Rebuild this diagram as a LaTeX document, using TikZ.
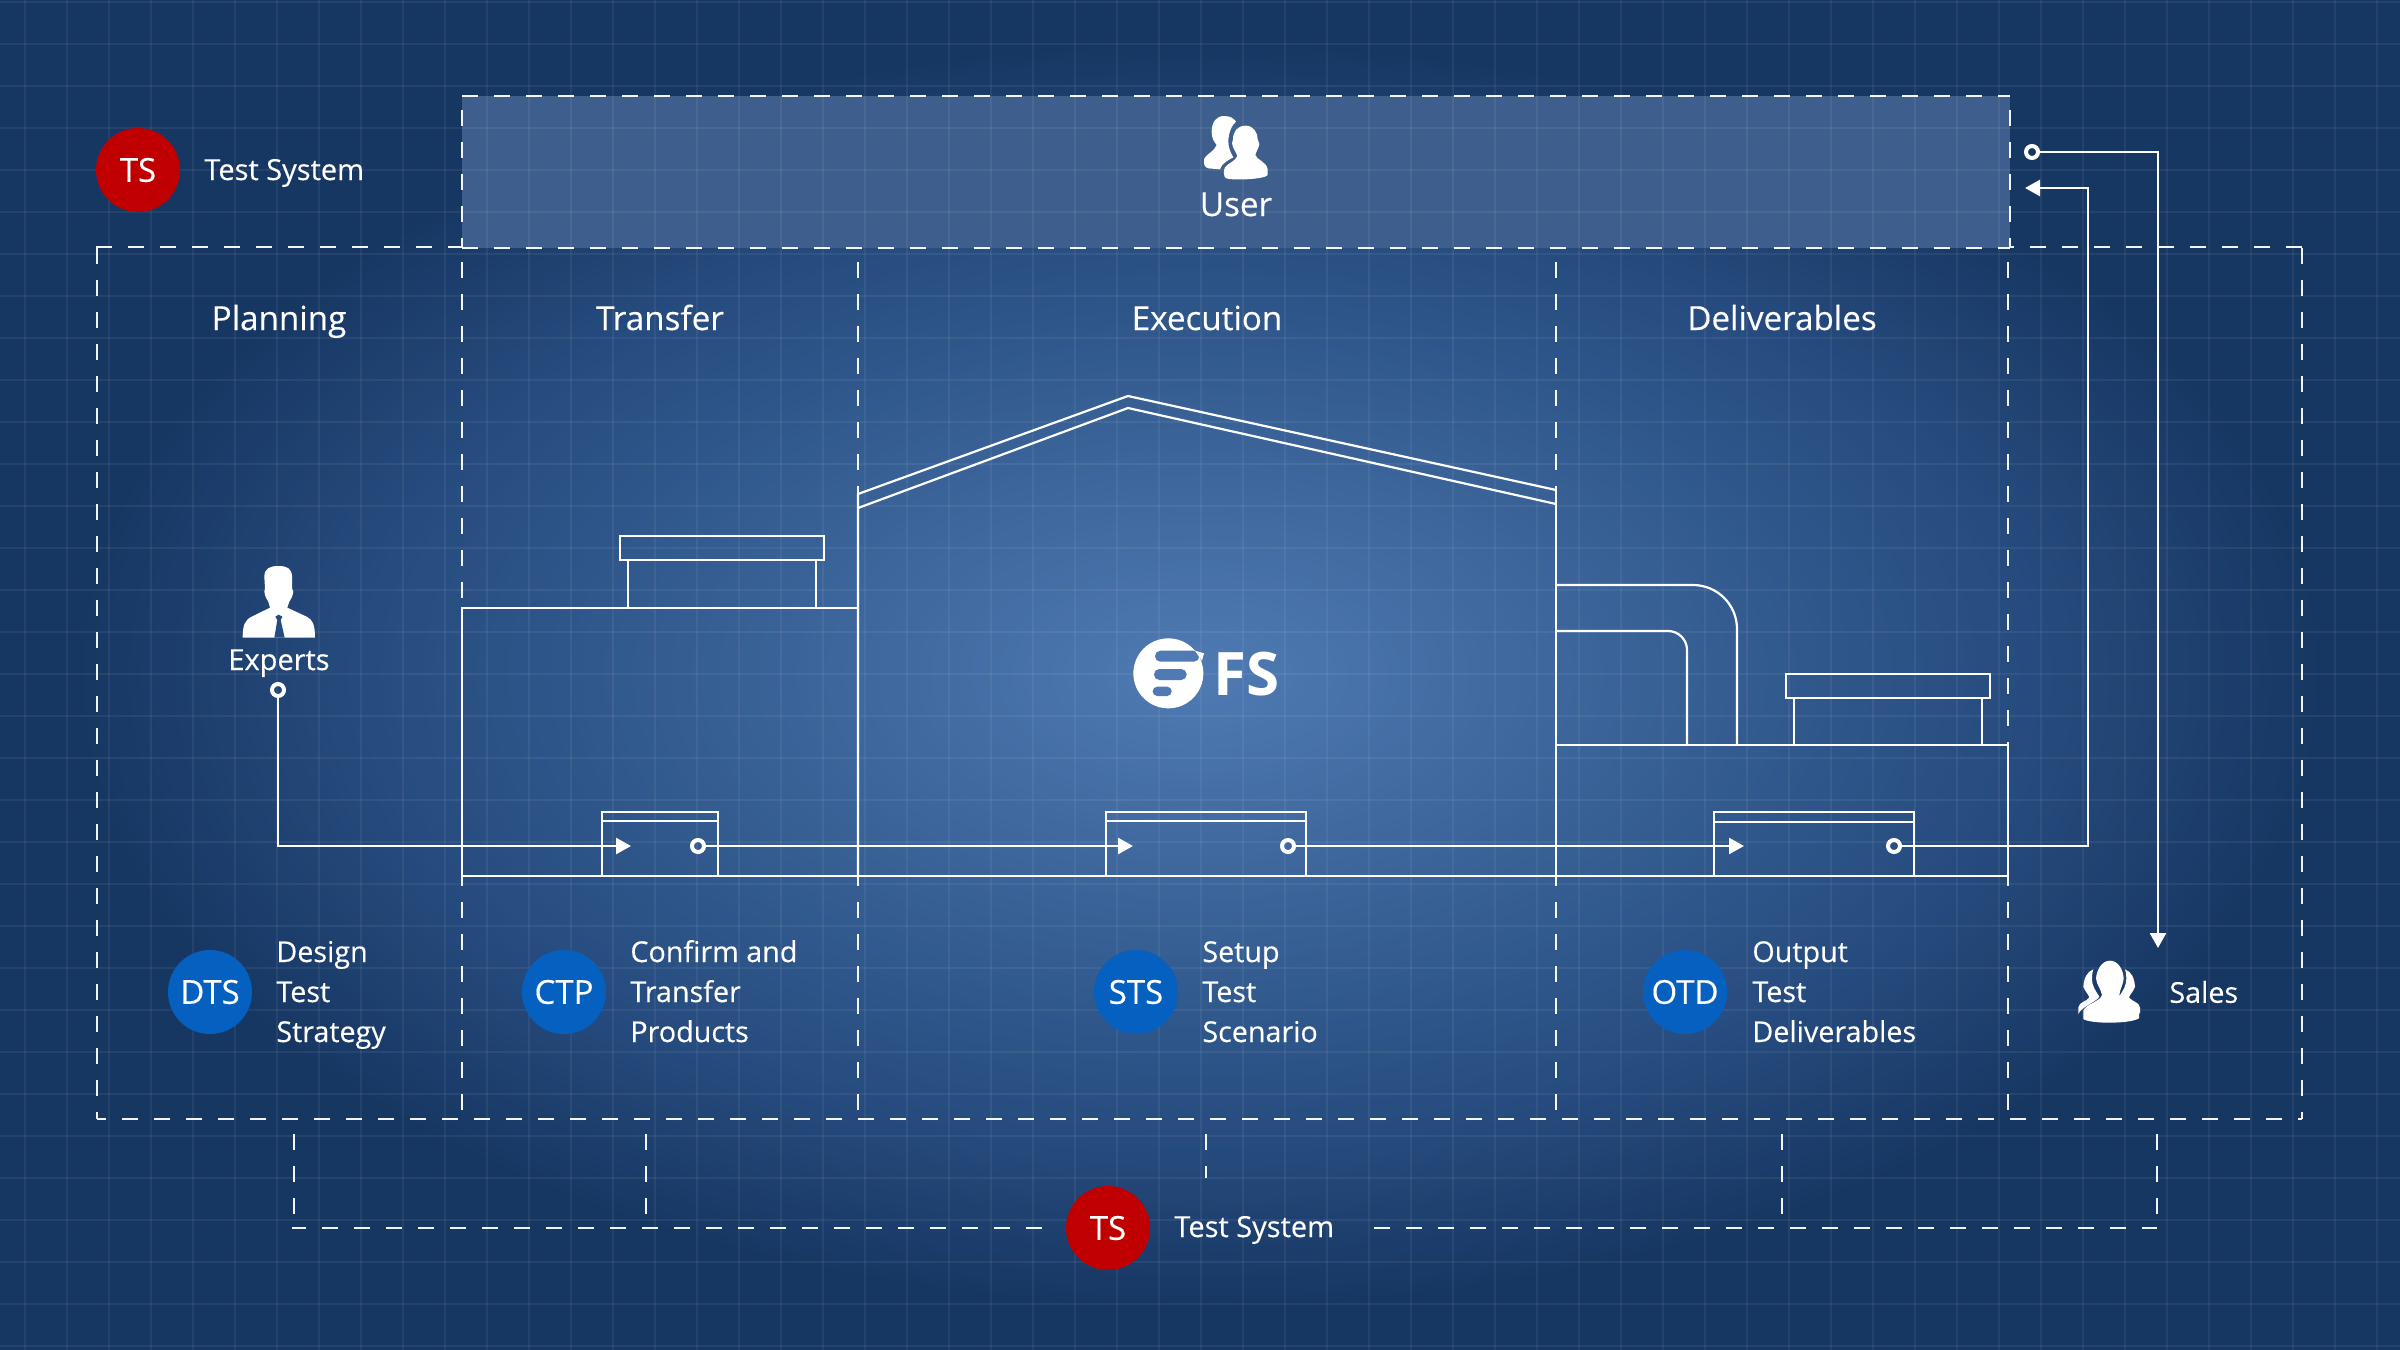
\documentclass[tikz,border=0pt]{standalone}
\usepackage{fontspec}
\setmainfont{Open Sans}[FakeBold=0.3]
\newfontfamily\logofont{Open Sans}
\usetikzlibrary{arrows.meta}
\definecolor{bgA}{HTML}{4F7AB3}
\definecolor{bgB}{HTML}{3F689E}
\definecolor{bgC}{HTML}{325A8E}
\definecolor{bgD}{HTML}{264B7E}
\definecolor{bgE}{HTML}{173763}
\definecolor{band}{HTML}{3E5F8D}
\definecolor{tsred}{HTML}{C00000}
\definecolor{stepblue}{HTML}{0560C0}
\tikzset{
  gridline/.style={white,opacity=.06,line width=1pt},
  wall/.style={white,line width=1.1pt},
  dashline/.style={white,opacity=.95,line width=1.1pt,dash pattern=on 8pt off 8pt},
  flowline/.style={white,line width=1.3pt},
  ringdot/.style={circle,draw=white,line width=2pt,minimum size=6pt,inner sep=0pt,outer sep=0pt},
  badge/.style={circle,minimum size=42pt,inner sep=0pt,text=white,font=\fontsize{16.5}{18}\selectfont},
  redbadge/.style={badge,fill=tsred},
  bluebadge/.style={badge,fill=stepblue},
  caption/.style={text=white,font=\fontsize{14.35}{20}\selectfont,inner sep=0pt,align=left,anchor=west},
  header/.style={text=white,font=\fontsize{16.6}{18}\selectfont,inner sep=0pt,anchor=base},
  smalltext/.style={text=white,font=\fontsize{14.5}{18}\selectfont,inner sep=0pt},
  tip/.style={-{Triangle[length=7.5pt,width=8pt]}},
}
\begin{document}
\begin{tikzpicture}[x=0.5pt,y=-0.5pt]
\useasboundingbox (0,0) rectangle (2400,1350);
\fill[bgE] (0,0) rectangle (2400,1350);
\begin{scope}
\clip (0,0) rectangle (2400,1350);
\foreach \rA/\rB/\cA/\cB in {.94/.70/bgE/bgD,.70/.48/bgD/bgC,.48/.28/bgC/bgB,.28/0/bgB/bgA}
  \foreach \t in {0,...,24} {
    \pgfmathsetmacro\rr{\rA+(\rB-\rA)*\t/25}
    \pgfmathsetmacro\pp{100*\t/25}
    \fill[\cB!\pp!\cA] (1200,675) ellipse[x radius={1200*\rr},y radius={675*\rr}];
  }
\end{scope}
% user band
\fill[band] (462,96) rectangle (2010,248);
\foreach \i in {0,...,56} \draw[gridline] ({25+42*\i},0) -- ({25+42*\i},1350);
\foreach \i in {0,...,32} \draw[gridline] (0,{2+42*\i}) -- (2400,{2+42*\i});
% dashed frames
\draw[dashline] (96,247) -- (462,247);
\draw[dashline] (462,248) -- (2010,248);
\draw[dashline] (2302,247) -- (2010,247);
\draw[dashline] (97,248) -- (97,1119);
\draw[dashline] (2302,248) -- (2302,1119);
\draw[dashline,dash phase=3.5pt] (97,1119) -- (2302,1119);
\draw[dashline] (462,96) -- (2010,96);
\draw[dashline,dash phase=9pt] (462,96) -- (462,248);
\draw[dashline,dash phase=9pt] (2010,96) -- (2010,248);
\foreach \x in {462,858,1556,2008} \draw[dashline,dash phase=9pt] (\x,248) -- (\x,1119);
% bottom bracket
\foreach \x in {294,646,1782,2157} \draw[dashline] (\x,1134) -- (\x,1214);
\draw[dashline] (1206,1134) -- (1206,1178);
\draw[dashline,dash phase=1pt] (292,1228) -- (1042,1228);
\draw[dashline] (1374,1228) -- (2157,1228);
% building
\draw[wall] (462,876) -- (2008,876);
\draw[wall] (462,876) -- (462,608) -- (858,608);
\draw[wall] (628,608) -- (628,560) (816,560) -- (816,608);
\draw[wall] (620,536) rectangle (824,560);
\draw[wall] (858,876) -- (858,494) -- (1128,396) -- (1556,490);
\draw[wall] (858,508) -- (1128,408) -- (1556,504);
\draw[wall] (1556,490) -- (1556,876);
\draw[wall] (1556,585) -- (1693,585) arc[start angle=-90,end angle=0,radius=44] -- (1737,745);
\draw[wall] (1556,631) -- (1668,631) arc[start angle=-90,end angle=0,radius=19] -- (1687,745);
\draw[wall] (1556,745) -- (2008,745) -- (2008,876);
\draw[wall] (1794,745) -- (1794,698) (1982,698) -- (1982,745);
\draw[wall] (1786,674) rectangle (1990,698);
\draw[wall] (602,876) -- (602,812) -- (718,812) -- (718,876) (602,821) -- (718,821);
\draw[wall] (1106,876) -- (1106,812) -- (1306,812) -- (1306,876) (1106,821) -- (1306,821);
\draw[wall] (1714,876) -- (1714,812) -- (1914,812) -- (1914,876) (1714,822) -- (1914,822);
% headers
\node[header] (hplan) at (279,330) {Planning};
\node[header] (htran) at (660,330) {Transfer};
\node[header] (hexec) at (1207,330) {Execution};
\node[header] (hdeli) at (1782,330) {Deliverables};
% user icon
\begin{scope}[shift={(1100,80)},x=0.16667pt,y=-0.16667pt]
\fill[white] (437,137) .. controls (462,137) and (473,160) .. (473,178) -- (478,192) .. controls (476,205) and (468,215) .. (466,225) .. controls (470,240) and (500,245) .. (503,268) -- (503,285) .. controls (495,298) and (400,302) .. (378,295) .. controls (370,290) and (370,270) .. (375,262) .. controls (385,248) and (405,245) .. (412,228) .. controls (408,215) and (398,205) .. (396,190) -- (399,178) .. controls (399,155) and (412,137) .. (437,137) -- cycle;
\fill[white] (372,108) .. controls (390,108) and (402,115) .. (408,125) .. controls (395,135) and (385,160) .. (385,185) .. controls (385,205) and (393,220) .. (400,232) .. controls (385,240) and (365,250) .. (360,268) -- (325,265) .. controls (312,262) and (310,250) .. (313,235) .. controls (320,222) and (345,212) .. (350,195) .. controls (342,185) and (335,175) .. (335,155) .. controls (335,125) and (350,108) .. (372,108) -- cycle;
\end{scope}
\node[header] (user) at (1236,216) {User};
\node[smalltext,anchor=base west] (tsl) at (204,180) {Test System};
\node[redbadge] (ts1) at (138,170) {TS};
% experts
\begin{scope}[shift={(200,540)},x=0.16667pt,y=-0.16667pt]
\fill[white] (235,78) .. controls (262,78) and (275,85) .. (276,110) -- (276,145) -- (280,155) .. controls (278,170) and (272,178) .. (268,185) -- (262,203) -- (320,230) .. controls (338,238) and (345,255) .. (345,293) -- (128,293) .. controls (128,255) and (135,240) .. (155,230) -- (210,203) -- (205,185) .. controls (200,178) and (195,170) .. (193,155) -- (195,145) -- (193,110) .. controls (193,85) and (210,78) .. (235,78) -- cycle;
\fill[bgD] (226,230) -- (236,224) -- (247,230) -- (242,240) -- (254,293) -- (223,293) -- (232,240) -- cycle;
\end{scope}
\node[smalltext,anchor=base] (expert) at (279,670) {Experts};
% logo
\begin{scope}[shift={(1110,620)},x=0.16667pt,y=-0.16667pt]
\fill[white] (175,160) circle[radius=105];
\fill[bgA,rounded corners=2.7pt] (135,92) rectangle (268,125);
\fill[bgA,rounded corners=2.7pt] (132,147) rectangle (230,180);
\fill[bgA,rounded corners=2.3pt] (128,200) rectangle (185,228);
\fill[white] (255,92) -- (282,100) -- (276,122) -- (268,112) -- cycle;
\end{scope}
\node[text=white,font=\logofont\bfseries\fontsize{30}{32}\selectfont,inner sep=0pt,anchor=base west] (fs) at (1213,695) {FS};
% step badges
\node[bluebadge] (dts) at (210,992) {DTS};
\node[bluebadge] (ctp) at (564,992) {CTP};
\node[bluebadge] (sts) at (1136,992) {STS};
\node[bluebadge] (otd) at (1685,992) {OTD};
\node[caption] (ldts) at (276,994) {\strut Design\\Test\\\strut Strategy};
\node[caption] (lctp) at (630,994) {\strut Confirm and\\Transfer\\\strut Products};
\node[caption] (lsts) at (1202,994) {\strut Setup\\Test\\\strut Scenario};
\node[caption] (lotd) at (1752,994) {\strut Output\\Test\\\strut Deliverables};
% sales
\begin{scope}[shift={(2040,920)},x=0.16667pt,y=-0.16667pt]
\fill[white] (210,122) .. controls (235,122) and (250,150) .. (251,175) .. controls (250,195) and (240,205) .. (238,225) .. controls (245,245) and (290,250) .. (297,275) -- (297,295) .. controls (270,312) and (150,312) .. (130,297) -- (130,272) .. controls (140,250) and (180,245) .. (186,225) .. controls (182,205) and (170,195) .. (168,175) .. controls (170,150) and (185,122) .. (210,122) -- cycle;
\fill[white] (160,148) .. controls (140,155) and (132,175) .. (130,200) .. controls (135,215) and (145,222) .. (148,232) .. controls (140,245) and (118,245) .. (115,262) -- (115,282) .. controls (122,262) and (170,245) .. (178,230) .. controls (165,210) and (155,195) .. (156,175) .. controls (155,165) and (158,155) .. (160,148) -- cycle;
\fill[white] (255,148) .. controls (275,155) and (283,175) .. (285,200) .. controls (280,215) and (270,222) .. (267,232) .. controls (275,245) and (297,245) .. (300,262) -- (300,282) .. controls (293,262) and (245,245) .. (237,230) .. controls (250,210) and (260,195) .. (259,175) .. controls (260,165) and (257,155) .. (255,148) -- cycle;
\end{scope}
\node[caption] (sales) at (2169,992) {Sales};
% bottom TS
\node[redbadge] (ts2) at (1108,1228) {TS};
\node[smalltext,anchor=base west] (tsl2) at (1174,1237) {Test System};
% flows
\node[ringdot] (s0) at (278,690) {};
\node[ringdot] (s1) at (698,846) {};
\node[ringdot] (s2) at (1288,846) {};
\node[ringdot] (s3) at (1894,846) {};
\node[ringdot] (s4) at (2032,152) {};
\coordinate (a1) at (631,846);
\coordinate (a2) at (1133,846);
\coordinate (a3) at (1744,846);
\coordinate (a4) at (2025,188);
\coordinate (a5) at (2158,948);
\draw[flowline,tip] (s0.south) |- (a1);
\draw[flowline,tip] (s1.east) -- (a2);
\draw[flowline,tip] (s2.east) -- (a3);
\draw[flowline,tip] (s3.east) -| (2088,188) -- (a4);
\draw[flowline,tip] (s4.east) -| (a5);
\end{tikzpicture}
\end{document}
